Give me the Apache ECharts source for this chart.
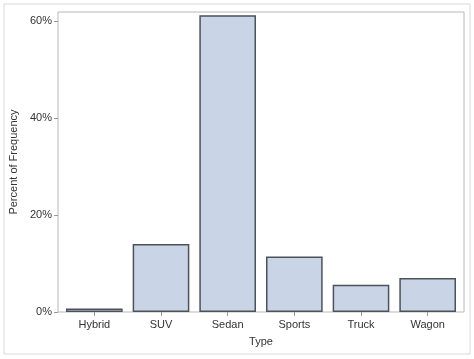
<!DOCTYPE html>
<html><head><meta charset="utf-8">
<script src="https://cdn.jsdelivr.net/npm/echarts@6/dist/echarts.min.js"></script>
<style>html,body{margin:0;padding:0;background:#fff}#c{width:474px;height:359px}</style>
</head><body><div id="c"></div>
<script>
const categories = ['Hybrid', 'SUV', 'Sedan', 'Sports', 'Truck', 'Wagon'];
const percents = [0.70, 14.02, 61.21, 11.45, 5.61, 7.01];
const yTicks = [0, 20, 40, 60];

const chart = echarts.init(document.getElementById('c'), null, {renderer: 'canvas'});
const font = 'Arial, "Liberation Sans", sans-serif';
chart.setOption({
  animation: false,
  backgroundColor: '#fff',
  graphic: [{
    type: 'rect', shape: {x: 4, y: 4, width: 466, height: 350},
    style: {fill: null, stroke: '#d9d9d9', lineWidth: 1}, silent: true
  }],
  grid: [
    {left: 61, right: 13, top: 12, bottom: 47},
    {left: 58, right: 10, top: 12, bottom: 47, show: true, borderColor: '#b8b8b8', borderWidth: 1, backgroundColor: 'transparent'}
  ],
  xAxis: [
    {
      type: 'category', data: categories, gridIndex: 0,
      axisLine: {show: false},
      axisTick: {show: true, alignWithLabel: true, length: 4, lineStyle: {color: '#999'}},
      axisLabel: {color: '#333', fontFamily: font, fontSize: 11, margin: 7},
      name: 'Type', nameLocation: 'middle', nameGap: 24,
      nameTextStyle: {color: '#333', fontFamily: font, fontSize: 11}
    },
    {type: 'value', gridIndex: 1, show: false, min: 0, max: 1}
  ],
  yAxis: [
    {
      type: 'value', gridIndex: 0, min: 0, max: 61.86, interval: 20, offset: 3,
      axisLine: {show: false},
      axisTick: {show: true, length: 4, lineStyle: {color: '#999'}},
      splitLine: {show: false},
      axisLabel: {color: '#333', fontFamily: font, fontSize: 11, margin: 6,
        showMaxLabel: false,
        formatter: v => yTicks.includes(v) ? v + '%' : ''},
      name: 'Percent of Frequency', nameLocation: 'middle', nameGap: 35, nameRotate: 90,
      nameTextStyle: {color: '#333', fontFamily: font, fontSize: 11}
    },
    {type: 'value', gridIndex: 1, show: false, min: 0, max: 1}
  ],
  series: [{
    type: 'bar', xAxisIndex: 0, yAxisIndex: 0,
    data: percents,
    barCategoryGap: '15%',
    itemStyle: {color: '#c9d5e6', borderColor: '#4d525a', borderWidth: 1.5}
  }]
});
</script></body></html>
